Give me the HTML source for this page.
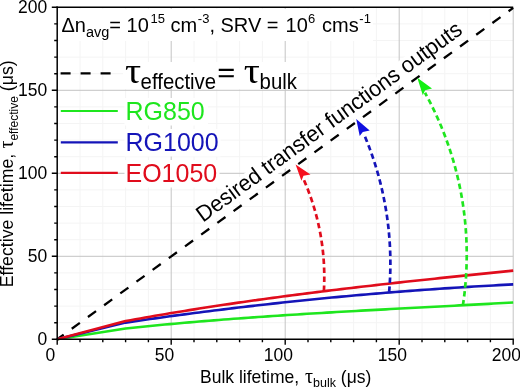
<!DOCTYPE html><html><head><meta charset="utf-8"><style>html,body{margin:0;padding:0;background:#fff;overflow:hidden}svg{display:block;font-family:'Liberation Sans', Arial, sans-serif;}</style></head><body>
<svg width="520" height="388" viewBox="0 0 520 388">
<rect width="520" height="388" fill="#fff"/>
<path d="M80.00 7.30V339.30M102.80 7.30V339.30M125.60 7.30V339.30M148.40 7.30V339.30M194.00 7.30V339.30M216.80 7.30V339.30M239.60 7.30V339.30M262.40 7.30V339.30M308.00 7.30V339.30M330.80 7.30V339.30M353.60 7.30V339.30M376.40 7.30V339.30M422.00 7.30V339.30M444.80 7.30V339.30M467.60 7.30V339.30M490.40 7.30V339.30M57.20 322.70H513.20M57.20 306.10H513.20M57.20 289.50H513.20M57.20 272.90H513.20M57.20 239.70H513.20M57.20 223.10H513.20M57.20 206.50H513.20M57.20 189.90H513.20M57.20 156.70H513.20M57.20 140.10H513.20M57.20 123.50H513.20M57.20 106.90H513.20M57.20 73.70H513.20M57.20 57.10H513.20M57.20 40.50H513.20M57.20 23.90H513.20" stroke="#f4f4f4" stroke-width="1" fill="none"/>
<path d="M171.20 7.30V339.30M285.20 7.30V339.30M399.20 7.30V339.30M513.20 7.30V339.30M57.20 256.30H513.20M57.20 173.30H513.20M57.20 90.30H513.20" stroke="#c4c4c4" stroke-width="1" fill="none"/>
<rect x="59.5" y="9.0" width="313.5" height="32.0" fill="#fff"/>
<rect x="123.0" y="62.0" width="175.0" height="27.0" fill="#fff"/>
<rect x="124.5" y="98.0" width="83.5" height="27.5" fill="#fff"/>
<rect x="124.5" y="129.0" width="96.0" height="27.5" fill="#fff"/>
<rect x="124.5" y="160.0" width="95.0" height="27.5" fill="#fff"/>
<rect transform="translate(203 222.7) rotate(-36.06)" x="-2" y="-15.5" width="326" height="20" fill="#fff"/>
<path d="M57.20 339.30L513.20 7.90" stroke="#000" stroke-width="2.3" stroke-dasharray="10 10" stroke-dashoffset="2" fill="none"/>
<path d="M57.20 339.30 L125.60 328.49 L130.51 327.98 L135.41 327.47 L140.32 326.97 L145.23 326.47 L150.13 325.99 L155.04 325.51 L159.94 325.04 L164.85 324.58 L169.76 324.13 L174.66 323.68 L179.57 323.24 L184.48 322.80 L189.38 322.38 L194.29 321.96 L199.19 321.54 L204.10 321.14 L209.01 320.74 L213.91 320.34 L218.82 319.95 L223.73 319.57 L228.63 319.19 L233.54 318.82 L238.45 318.45 L243.35 318.09 L248.26 317.74 L253.16 317.39 L258.07 317.04 L262.98 316.70 L267.88 316.36 L272.79 316.03 L277.70 315.70 L282.60 315.38 L287.51 315.06 L292.42 314.75 L297.32 314.43 L302.23 314.13 L307.13 313.82 L312.04 313.52 L316.95 313.22 L321.85 312.93 L326.76 312.64 L331.67 312.35 L336.57 312.06 L341.48 311.78 L346.38 311.50 L351.29 311.22 L356.20 310.95 L361.10 310.67 L366.01 310.40 L370.92 310.13 L375.82 309.86 L380.73 309.59 L385.64 309.33 L390.54 309.06 L395.45 308.80 L400.35 308.54 L405.26 308.28 L410.17 308.02 L415.07 307.76 L419.98 307.50 L424.89 307.24 L429.79 306.98 L434.70 306.72 L439.61 306.46 L444.51 306.20 L449.42 305.94 L454.32 305.68 L459.23 305.42 L464.14 305.16 L469.04 304.89 L473.95 304.63 L478.86 304.37 L483.76 304.10 L488.67 303.83 L493.57 303.56 L498.48 303.29 L503.39 303.02 L508.29 302.75 L513.20 302.47" stroke="#1ee61e" stroke-width="2.6" fill="none" stroke-linejoin="round"/>
<path d="M57.20 339.30 L125.60 322.60 L130.51 321.88 L135.41 321.16 L140.32 320.45 L145.23 319.75 L150.13 319.05 L155.04 318.36 L159.94 317.68 L164.85 317.00 L169.76 316.33 L174.66 315.66 L179.57 315.00 L184.48 314.35 L189.38 313.70 L194.29 313.06 L199.19 312.43 L204.10 311.80 L209.01 311.17 L213.91 310.56 L218.82 309.95 L223.73 309.34 L228.63 308.74 L233.54 308.15 L238.45 307.56 L243.35 306.98 L248.26 306.41 L253.16 305.84 L258.07 305.28 L262.98 304.72 L267.88 304.17 L272.79 303.62 L277.70 303.09 L282.60 302.55 L287.51 302.03 L292.42 301.51 L297.32 301.00 L302.23 300.49 L307.13 299.99 L312.04 299.49 L316.95 299.00 L321.85 298.52 L326.76 298.04 L331.67 297.57 L336.57 297.10 L341.48 296.65 L346.38 296.19 L351.29 295.75 L356.20 295.31 L361.10 294.87 L366.01 294.44 L370.92 294.02 L375.82 293.60 L380.73 293.19 L385.64 292.79 L390.54 292.39 L395.45 292.00 L400.35 291.61 L405.26 291.23 L410.17 290.86 L415.07 290.49 L419.98 290.13 L424.89 289.78 L429.79 289.43 L434.70 289.08 L439.61 288.75 L444.51 288.41 L449.42 288.09 L454.32 287.77 L459.23 287.46 L464.14 287.15 L469.04 286.85 L473.95 286.56 L478.86 286.27 L483.76 285.99 L488.67 285.71 L493.57 285.44 L498.48 285.17 L503.39 284.92 L508.29 284.66 L513.20 284.42" stroke="#1414b8" stroke-width="2.6" fill="none" stroke-linejoin="round"/>
<path d="M57.20 339.30 L125.60 321.06 L130.51 320.17 L135.41 319.28 L140.32 318.41 L145.23 317.54 L150.13 316.68 L155.04 315.84 L159.94 315.00 L164.85 314.17 L169.76 313.34 L174.66 312.53 L179.57 311.72 L184.48 310.92 L189.38 310.14 L194.29 309.35 L199.19 308.58 L204.10 307.81 L209.01 307.06 L213.91 306.31 L218.82 305.56 L223.73 304.83 L228.63 304.10 L233.54 303.38 L238.45 302.66 L243.35 301.96 L248.26 301.26 L253.16 300.56 L258.07 299.88 L262.98 299.20 L267.88 298.52 L272.79 297.85 L277.70 297.19 L282.60 296.54 L287.51 295.89 L292.42 295.25 L297.32 294.61 L302.23 293.98 L307.13 293.35 L312.04 292.73 L316.95 292.11 L321.85 291.50 L326.76 290.90 L331.67 290.30 L336.57 289.70 L341.48 289.11 L346.38 288.53 L351.29 287.95 L356.20 287.37 L361.10 286.80 L366.01 286.23 L370.92 285.67 L375.82 285.11 L380.73 284.55 L385.64 284.00 L390.54 283.45 L395.45 282.91 L400.35 282.37 L405.26 281.83 L410.17 281.29 L415.07 280.76 L419.98 280.24 L424.89 279.71 L429.79 279.19 L434.70 278.67 L439.61 278.15 L444.51 277.64 L449.42 277.13 L454.32 276.62 L459.23 276.11 L464.14 275.61 L469.04 275.11 L473.95 274.61 L478.86 274.11 L483.76 273.61 L488.67 273.12 L493.57 272.63 L498.48 272.13 L503.39 271.64 L508.29 271.15 L513.20 270.66" stroke="#e00c1c" stroke-width="2.6" fill="none" stroke-linejoin="round"/>
<path d="M323.88 290.98 L323.99 289.03 L324.08 287.08 L324.15 285.13 L324.20 283.18 L324.25 281.23 L324.27 279.27 L324.28 277.32 L324.27 275.37 L324.25 273.42 L324.21 271.47 L324.16 269.52 L324.09 267.57 L324.01 265.62 L323.90 263.67 L323.79 261.72 L323.66 259.77 L323.51 257.83 L323.34 255.88 L323.16 253.94 L322.97 252.00 L322.76 250.06 L322.53 248.12 L322.29 246.18 L322.03 244.25 L321.76 242.32 L321.47 240.39 L321.17 238.46 L320.85 236.53 L320.51 234.61 L320.16 232.69 L319.79 230.77 L319.41 228.86 L319.01 226.95 L318.60 225.04 L318.17 223.14 L317.73 221.24 L317.27 219.34 L316.80 217.45 L316.31 215.56 L315.80 213.67 L315.28 211.79 L314.75 209.92 L314.20 208.04 L313.63 206.18 L313.05 204.31 L312.46 202.45 L311.85 200.60 L311.22 198.75 L310.58 196.91 L309.93 195.07 L309.26 193.24 L308.57 191.41 L307.88 189.59 L307.16 187.77 L306.43 185.96 L305.69 184.16 L304.93 182.36 L304.16 180.56 L303.37 178.78" stroke="#e00c1c" stroke-width="2.7" stroke-dasharray="5.5 3.5" fill="none"/>
<polygon points="295.6,164.6 310.5,174.4 303.5,175.8 301.4,180.8" fill="#f5101e"/>
<path d="M389.15 291.91 L389.37 289.18 L389.57 286.45 L389.75 283.71 L389.91 280.98 L390.04 278.24 L390.15 275.50 L390.24 272.76 L390.31 270.02 L390.35 267.28 L390.37 264.54 L390.37 261.80 L390.34 259.06 L390.29 256.32 L390.22 253.58 L390.13 250.84 L390.01 248.11 L389.87 245.37 L389.71 242.63 L389.52 239.90 L389.31 237.17 L389.08 234.44 L388.83 231.71 L388.56 228.98 L388.26 226.26 L387.94 223.54 L387.59 220.82 L387.23 218.10 L386.84 215.39 L386.43 212.68 L386.00 209.97 L385.54 207.27 L385.06 204.57 L384.56 201.88 L384.04 199.19 L383.49 196.50 L382.92 193.82 L382.33 191.15 L381.72 188.48 L381.09 185.81 L380.43 183.15 L379.75 180.49 L379.05 177.85 L378.33 175.20 L377.59 172.56 L376.82 169.93 L376.03 167.31 L375.22 164.69 L374.39 162.08 L373.54 159.48 L372.66 156.88 L371.77 154.29 L370.85 151.71 L369.91 149.13 L368.95 146.57 L367.97 144.01 L366.97 141.46 L365.94 138.92 L364.90 136.38 L363.83 133.86" stroke="#1414b8" stroke-width="2.7" stroke-dasharray="5.5 3.5" fill="none"/>
<polygon points="356.2,119.1 369.7,130.6 362.8,132.1 359.7,136.0" fill="#1010e0"/>
<path d="M462.88 305.41 L463.42 301.72 L463.93 298.02 L464.39 294.33 L464.81 290.62 L465.18 286.91 L465.52 283.20 L465.82 279.49 L466.07 275.77 L466.28 272.05 L466.46 268.33 L466.59 264.60 L466.67 260.87 L466.72 257.15 L466.73 253.42 L466.69 249.69 L466.61 245.97 L466.50 242.24 L466.34 238.52 L466.14 234.80 L465.89 231.08 L465.61 227.36 L465.28 223.65 L464.92 219.94 L464.51 216.23 L464.06 212.53 L463.57 208.84 L463.04 205.15 L462.47 201.47 L461.86 197.79 L461.20 194.12 L460.51 190.46 L459.77 186.81 L459.00 183.16 L458.18 179.52 L457.33 175.90 L456.43 172.28 L455.49 168.67 L454.52 165.07 L453.50 161.49 L452.44 157.91 L451.35 154.35 L450.21 150.80 L449.03 147.27 L447.82 143.74 L446.57 140.23 L445.27 136.74 L443.94 133.25 L442.57 129.79 L441.17 126.34 L439.72 122.90 L438.23 119.48 L436.71 116.08 L435.15 112.70 L433.55 109.33 L431.92 105.98 L430.25 102.65 L428.54 99.34 L426.79 96.04 L425.01 92.77" stroke="#1ee61e" stroke-width="2.7" stroke-dasharray="5.5 3.5" fill="none"/>
<polygon points="417.3,77.8 432.0,88.6 425.1,90.2 422.8,95.2" fill="#12f012"/>
<path d="M56.50 7.30H513.20" stroke="#000" stroke-width="1.4"/>
<path d="M57.20 6.60V340.00" stroke="#000" stroke-width="1.5"/>
<path d="M56.50 339.30H513.90" stroke="#000" stroke-width="1.5"/>
<path d="M51.80 339.30H57.20M54.20 322.70H57.20M54.20 306.10H57.20M54.20 289.50H57.20M54.20 272.90H57.20M51.80 256.30H57.20M54.20 239.70H57.20M54.20 223.10H57.20M54.20 206.50H57.20M54.20 189.90H57.20M51.80 173.30H57.20M54.20 156.70H57.20M54.20 140.10H57.20M54.20 123.50H57.20M54.20 106.90H57.20M51.80 90.30H57.20M54.20 73.70H57.20M54.20 57.10H57.20M54.20 40.50H57.20M54.20 23.90H57.20M51.80 7.30H57.20M57.20 339.30V344.70M80.00 339.30V342.30M102.80 339.30V342.30M125.60 339.30V342.30M148.40 339.30V342.30M171.20 339.30V344.70M194.00 339.30V342.30M216.80 339.30V342.30M239.60 339.30V342.30M262.40 339.30V342.30M285.20 339.30V344.70M308.00 339.30V342.30M330.80 339.30V342.30M353.60 339.30V342.30M376.40 339.30V342.30M399.20 339.30V344.70M422.00 339.30V342.30M444.80 339.30V342.30M467.60 339.30V342.30M490.40 339.30V342.30M513.20 339.30V344.70" stroke="#000" stroke-width="1.4" fill="none"/>
<text transform="translate(47.30 344.90) scale(1.000 1.040)" font-size="17.50" text-anchor="end">0</text>
<text transform="translate(47.30 261.90) scale(1.000 1.040)" font-size="17.50" text-anchor="end">50</text>
<text transform="translate(47.30 178.90) scale(1.000 1.040)" font-size="17.50" text-anchor="end">100</text>
<text transform="translate(47.30 95.90) scale(1.000 1.040)" font-size="17.50" text-anchor="end">150</text>
<text transform="translate(47.30 12.90) scale(1.000 1.040)" font-size="17.50" text-anchor="end">200</text>
<text transform="translate(50.40 360.60) scale(1.000 1.040)" font-size="17.50" text-anchor="middle">0</text>
<text transform="translate(164.40 360.60) scale(1.000 1.040)" font-size="17.50" text-anchor="middle">50</text>
<text transform="translate(278.40 360.60) scale(1.000 1.040)" font-size="17.50" text-anchor="middle">100</text>
<text transform="translate(392.40 360.60) scale(1.000 1.040)" font-size="17.50" text-anchor="middle">150</text>
<text transform="translate(506.40 360.60) scale(1.000 1.040)" font-size="17.50" text-anchor="middle">200</text>
<text transform="translate(200.00 382.80) scale(1.000 1.040)" font-size="17.50">Bulk lifetime, <tspan font-family="Liberation Serif" font-size="20" dx="1">τ</tspan><tspan font-size="12.5" dy="4.5">bulk</tspan><tspan dy="-4.5"> (μs)</tspan></text>
<text transform="translate(12.80 287.20) rotate(-90.00) scale(1.000 1.040)" font-size="17.70">Effective lifetime, <tspan font-family="Liberation Serif" font-size="20" dx="0.3">τ</tspan><tspan font-size="12" dy="5.3">effective</tspan><tspan dy="-5.3"> (μs)</tspan></text>
<text transform="translate(61.50 31.50) scale(1.000 1.040)" font-size="20.00">Δn<tspan font-size="14.5" dy="5.4">avg</tspan><tspan dy="-5.4">= 10</tspan><tspan font-size="13" dx="1.8" dy="-8">15</tspan><tspan dy="8"> cm</tspan><tspan font-size="13" dx="0.6" dy="-8">-3</tspan><tspan dy="8">, SRV =</tspan><tspan dx="1.5"> 10</tspan><tspan font-size="13" dx="0.3" dy="-8">6</tspan><tspan dx="1.2" dy="8"> cms</tspan><tspan font-size="13" dx="0.6" dy="-8">-1</tspan></text>
<path d="M60.6 73.4H111" stroke="#000" stroke-width="2.3" stroke-dasharray="10 10"/>
<text transform="translate(125.00 82.80) scale(1.134 1.000)" font-size="35.40" font-family="Liberation Serif">τ</text>
<text transform="translate(140.60 88.70) scale(1.000 1.040)" font-size="20.40">effective</text>
<text transform="translate(217.50 81.30) scale(1.000 0.850)" font-size="30.00" stroke="#000" stroke-width="0.4">=</text>
<text transform="translate(243.70 82.80) scale(1.134 1.000)" font-size="35.40" font-family="Liberation Serif">τ</text>
<text transform="translate(259.60 88.70) scale(1.000 1.040)" font-size="20.40">bulk</text>
<path d="M60.8 111.0H117.8" stroke="#1ee61e" stroke-width="2.2"/>
<text transform="translate(125.50 120.10) scale(1.000 1.040)" font-size="25.00" fill="#1ee61e">RG850</text>
<path d="M60.8 142.3H117.8" stroke="#1414b8" stroke-width="2.2"/>
<text transform="translate(125.50 151.00) scale(1.000 1.040)" font-size="25.00" fill="#1414b8">RG1000</text>
<path d="M60.8 172.8H117.8" stroke="#e00c1c" stroke-width="2.2"/>
<text transform="translate(125.50 182.00) scale(1.000 1.040)" font-size="25.00" fill="#e00c1c">EO1050</text>
<text transform="translate(203.00 222.70) rotate(-36.06) scale(1.000 1.040)" font-size="21.60">Desired transfer functions outputs</text>
</svg></body></html>
